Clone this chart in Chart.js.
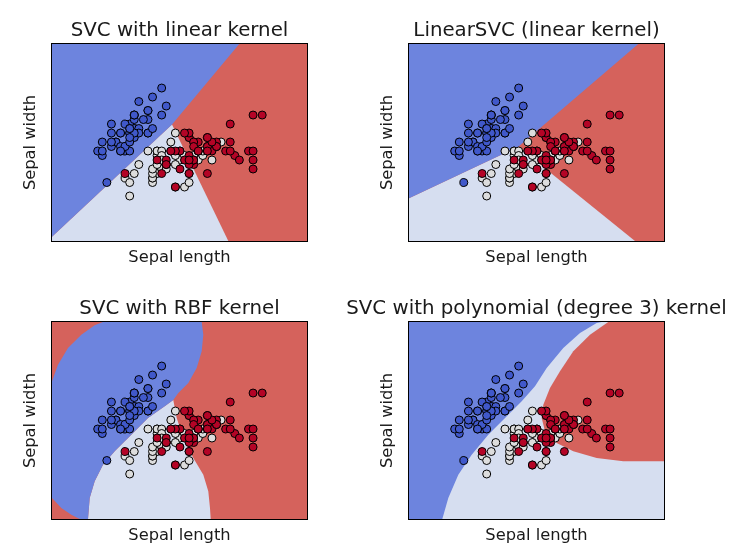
<!DOCTYPE html>
<html><head><meta charset="utf-8">
<script src="https://cdn.jsdelivr.net/npm/chart.js@4.4.1/dist/chart.umd.min.js"></script>
<style>
html,body{margin:0;padding:0;background:#fff;width:736px;height:550px;overflow:hidden;}
canvas{position:absolute;}
</style></head><body>
<canvas id="c1" width="359" height="272" style="left:0px;top:0px"></canvas>
<canvas id="c2" width="399" height="272" style="left:337px;top:0px"></canvas>
<canvas id="c3" width="359" height="272" style="left:0px;top:278px"></canvas>
<canvas id="c4" width="399" height="272" style="left:337px;top:278px"></canvas>
<script>
// Iris sepal length / sepal width per class
const setosaLength = [5.1,4.9,4.7,4.6,5.0,5.4,4.6,5.0,4.4,4.9,5.4,4.8,4.8,4.3,5.8,5.7,5.4,5.1,5.7,5.1,5.4,5.1,4.6,5.1,4.8,5.0,5.0,5.2,5.2,4.7,4.8,5.4,5.2,5.5,4.9,5.0,5.5,4.9,4.4,5.1,5.0,4.5,4.4,5.0,5.1,4.8,5.1,4.6,5.3,5.0];
const setosaWidth  = [3.5,3.0,3.2,3.1,3.6,3.9,3.4,3.4,2.9,3.1,3.7,3.4,3.0,3.0,4.0,4.4,3.9,3.5,3.8,3.8,3.4,3.7,3.6,3.3,3.4,3.0,3.4,3.5,3.4,3.2,3.1,3.4,4.1,4.2,3.1,3.2,3.5,3.6,3.0,3.4,3.5,2.3,3.2,3.5,3.8,3.0,3.8,3.2,3.7,3.3];
const versicolorLength = [7.0,6.4,6.9,5.5,6.5,5.7,6.3,4.9,6.6,5.2,5.0,5.9,6.0,6.1,5.6,6.7,5.6,5.8,6.2,5.6,5.9,6.1,6.3,6.1,6.4,6.6,6.8,6.7,6.0,5.7,5.5,5.5,5.8,6.0,5.4,6.0,6.7,6.3,5.6,5.5,5.5,6.1,5.8,5.0,5.6,5.7,5.7,6.2,5.1,5.7];
const versicolorWidth  = [3.2,3.2,3.1,2.3,2.8,2.8,3.3,2.4,2.9,2.7,2.0,3.0,2.2,2.9,2.9,3.1,3.0,2.7,2.2,2.5,3.2,2.8,2.5,2.8,2.9,3.0,2.8,3.0,2.9,2.6,2.4,2.4,2.7,2.7,3.0,3.4,3.1,2.3,3.0,2.5,2.6,3.0,2.6,2.3,2.7,3.0,2.9,2.9,2.5,2.8];
const virginicaLength = [6.3,5.8,7.1,6.3,6.5,7.6,4.9,7.3,6.7,7.2,6.5,6.4,6.8,5.7,5.8,6.4,6.5,7.7,7.7,6.0,6.9,5.6,7.7,6.3,6.7,7.2,6.2,6.1,6.4,7.2,7.4,7.9,6.4,6.3,6.1,7.7,6.3,6.4,6.0,6.9,6.7,6.9,5.8,6.8,6.7,6.7,6.3,6.5,6.2,5.9];
const virginicaWidth  = [3.3,2.7,3.0,2.9,3.0,3.0,2.5,2.9,2.5,3.6,3.2,2.7,3.0,2.5,2.8,3.2,3.0,3.8,2.6,2.2,3.2,2.8,2.8,2.7,3.3,3.2,2.8,3.0,2.8,3.0,2.8,3.8,2.8,2.8,2.6,3.0,3.4,3.1,3.0,3.1,3.1,3.1,2.7,3.2,3.3,3.0,2.5,3.0,3.4,3.0];

// Axis ranges (mesh extent)
const xRange = [3.3, 8.88];
const yRange = [1.0, 5.38];

const titles = ['SVC with linear kernel', 'LinearSVC (linear kernel)', 'SVC with RBF kernel', 'SVC with polynomial (degree 3) kernel'];
const xLabel = 'Sepal length';
const yLabel = 'Sepal width';

// Decision regions, read as polygons in data coordinates
const linearBlue  = [[3.3,1.096],[5.926,3.590],[7.398,5.38],[3.3,5.38]];
const linearLight = [[3.3,1.0],[3.3,1.096],[5.926,3.590],[7.158,1.0]];
const linsvcBlue  = [[3.3,1.949],[5.692,3.097],[8.318,5.38],[3.3,5.38]];
const linsvcLight = [[3.3,1.0],[3.3,1.949],[5.692,3.097],[8.245,1.0]];
const rbfBlue = [[3.3,4.062],[3.431,4.431],[3.650,4.802],[3.941,5.098],[4.234,5.307],[4.416,5.38],[6.576,5.38],[6.611,5.098],[6.576,4.729],[6.466,4.357],[6.283,4.024],[6.064,3.802],[5.954,3.646],[5.766,3.506],[5.401,3.246],[5.035,2.874],[4.672,2.505],[4.416,2.207],[4.234,1.838],[4.125,1.467],[4.088,1.0],[3.906,1.0],[3.722,1.096],[3.504,1.245],[3.3,1.467]];
const rbfLight = [[5.954,3.646],[5.766,3.506],[5.401,3.246],[5.035,2.874],[4.672,2.505],[4.416,2.207],[4.234,1.838],[4.125,1.467],[4.088,1.0],[6.773,1.0],[6.757,1.245],[6.720,1.616],[6.611,1.985],[6.392,2.356],[6.173,2.801],[6.029,3.246]];
const polyBlue = [[3.3,1.0],[4.029,1.0],[4.160,1.467],[4.379,1.985],[4.672,2.430],[5.035,2.874],[5.401,3.246],[5.766,3.617],[6.057,3.950],[6.313,4.357],[6.676,4.802],[7.042,5.136],[7.407,5.358],[7.517,5.38],[3.3,5.38]];
const polyRed = [[7.661,5.38],[7.261,5.098],[6.895,4.729],[6.604,4.284],[6.385,3.913],[6.239,3.541],[6.204,3.246],[6.276,2.950],[6.532,2.690],[6.895,2.505],[7.407,2.356],[7.989,2.283],[8.88,2.283],[8.88,5.38]];
const fullArea = [[3.3,1.0],[8.88,1.0],[8.88,5.38],[3.3,5.38]];

const COL = {
  blueRegion: 'rgb(109,132,222)',
  lightRegion: 'rgb(214,222,240)',
  redRegion: 'rgb(213,98,92)',
  setosa: 'rgb(64,88,202)',
  versicolor: 'rgb(221,221,221)',
  virginica: 'rgb(180,4,38)',
  text: '#1a1a1a'
};
const FONT = 'DejaVu Sans';

function pts(xs, ys){ return xs.map((x,i)=>({x:x, y:ys[i]})); }
function poly(arr){ return arr.map(p=>({x:p[0], y:p[1]})); }

function regionDs(arr, color){
  return {data: poly(arr), showLine:true, fill:'shape', backgroundColor:color,
    borderColor:'rgba(0,0,0,0)', borderWidth:1, pointRadius:0, tension:0};
}
function pointDs(xs, ys, color){
  return {data: pts(xs, ys), showLine:false, pointRadius:4, pointBorderWidth:1,
    pointBackgroundColor:color, pointBorderColor:'#000', backgroundColor:color, borderColor:'#000'};
}

const framePlugin = {
  id:'frame',
  afterDatasetsDraw(chart){
    const a = chart.chartArea, ctx = chart.ctx;
    ctx.save();
    ctx.strokeStyle = '#000';
    ctx.lineWidth = 1;
    ctx.strokeRect(Math.round(a.left)-0.5, Math.round(a.top)-0.5, Math.round(a.right-a.left)+1, Math.round(a.bottom-a.top)+1);
    ctx.restore();
  }
};

function makeChart(id, title, regions, sideW, yTitleX){
  const datasets = [
    pointDs(virginicaLength, virginicaWidth, COL.virginica),
    pointDs(versicolorLength, versicolorWidth, COL.versicolor),
    pointDs(setosaLength, setosaWidth, COL.setosa)
  ].concat(regions);
  const H = 272, bottomH = 31, lineH = 16.3*1.2;
  new Chart(document.getElementById(id), {
    type:'scatter',
    data:{datasets},
    options:{
      responsive:false, animation:false, devicePixelRatio:1,
      layout:{padding:0},
      plugins:{
        legend:{display:false}, tooltip:{enabled:false},
        title:{display:true, text:title, color:COL.text,
          font:{family:FONT, size:19.8, weight:'normal', lineHeight:1.2},
          padding:{top:19.3, bottom:0.9}}
      },
      scales:{
        x:{type:'linear', min:xRange[0], max:xRange[1],
          ticks:{display:false}, grid:{display:false, drawTicks:false}, border:{display:false},
          title:{display:true, text:xLabel, color:COL.text, font:{family:FONT, size:16.3, lineHeight:1.2},
            padding:{top:0, bottom: H - 257.3 - lineH/2}},
          afterFit(s){ s.height = bottomH; }},
        y:{type:'linear', position:'left', min:yRange[0], max:yRange[1],
          ticks:{display:false}, grid:{display:false, drawTicks:false}, border:{display:false},
          title:{display:true, text:yLabel, color:COL.text, font:{family:FONT, size:16.3, lineHeight:1.2},
            padding:{top: yTitleX - lineH/2, bottom:0}},
          afterFit(s){ s.width = sideW; }},
        yRight:{type:'linear', position:'right', display:true,
          ticks:{display:false}, grid:{display:false, drawTicks:false}, border:{display:false},
          afterFit(s){ s.width = sideW; }}
      }
    },
    plugins:[framePlugin]
  });
}

makeChart('c1', titles[0], [regionDs(linearBlue, COL.blueRegion), regionDs(linearLight, COL.lightRegion), regionDs(fullArea, COL.redRegion)], 52, 30.3);
makeChart('c2', titles[1], [regionDs(linsvcBlue, COL.blueRegion), regionDs(linsvcLight, COL.lightRegion), regionDs(fullArea, COL.redRegion)], 72, 50.3);
makeChart('c3', titles[2], [regionDs(rbfBlue, COL.blueRegion), regionDs(rbfLight, COL.lightRegion), regionDs(fullArea, COL.redRegion)], 52, 30.3);
makeChart('c4', titles[3], [regionDs(polyBlue, COL.blueRegion), regionDs(polyRed, COL.redRegion), regionDs(fullArea, COL.lightRegion)], 72, 50.3);
</script>
</body></html>
